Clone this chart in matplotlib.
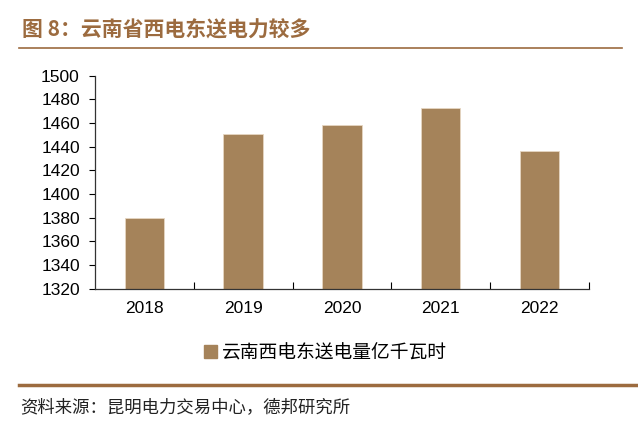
import matplotlib.pyplot as plt
from matplotlib.lines import Line2D
from matplotlib.patches import Patch

plt.rcParams['font.family'] = ['Liberation Sans', 'Noto Sans CJK SC', 'DejaVu Sans']

years = ['2018', '2019', '2020', '2021', '2022']
power = [1380, 1451, 1458, 1473, 1436]
series_name = '云南西电东送电量亿千瓦时'
title = '图 8：云南省西电东送电力较多'
source = '资料来源：昆明电力交易中心，德邦研究所'

bar_color = '#a5835a'
brown = '#9c6b3f'

fig = plt.figure(figsize=(6.38, 4.24), dpi=100)
ax = fig.add_axes([0.149, 0.319, 0.774, 0.5025])

x = range(len(years))
ax.bar(x, power, width=0.4, color=bar_color, edgecolor='#e6d6c2', linewidth=0.6)

ax.set_xlim(-0.5, len(years) - 0.5)
ax.set_ylim(1320, 1500)
ax.set_yticks(range(1320, 1501, 20))
ax.tick_params(axis='y', direction='out', length=4, width=0.8, labelsize=12.5, pad=7)

ax.set_xticks(list(x))
ax.set_xticklabels(years)
ax.tick_params(axis='x', length=0, labelsize=12.5, pad=9)
ax.set_xticks([i + 0.5 for i in x], minor=True)
ax.tick_params(axis='x', which='minor', direction='in', length=5, width=0.8)

for s in ['top', 'right']:
    ax.spines[s].set_visible(False)
for s in ['left', 'bottom']:
    ax.spines[s].set_linewidth(0.9)
    ax.spines[s].set_color('#333333')

fig.legend(handles=[Patch(color=bar_color, label=series_name)],
           loc='center', bbox_to_anchor=(0.51, 0.168), frameon=False,
           handlelength=0.7, handleheight=0.7, handletextpad=0.3,
           prop={'family': ['Noto Sans CJK SC'], 'size': 13.5})

fig.text(0.034, 0.928, title, color=brown, fontsize=15, fontweight='bold',
         family=['Noto Sans CJK SC'], va='center', ha='left')
fig.add_artist(Line2D([0.03, 0.975], [0.887, 0.887], color=brown, linewidth=1.2,
                      transform=fig.transFigure))
fig.add_artist(Line2D([0.03, 1.0], [0.093, 0.093], color=brown, linewidth=2.5,
                      transform=fig.transFigure))
fig.text(0.031, 0.04, source, color='#222222', fontsize=12.5,
         family=['Noto Sans CJK SC'], va='center', ha='left')

plt.savefig('out.png', dpi=100)
